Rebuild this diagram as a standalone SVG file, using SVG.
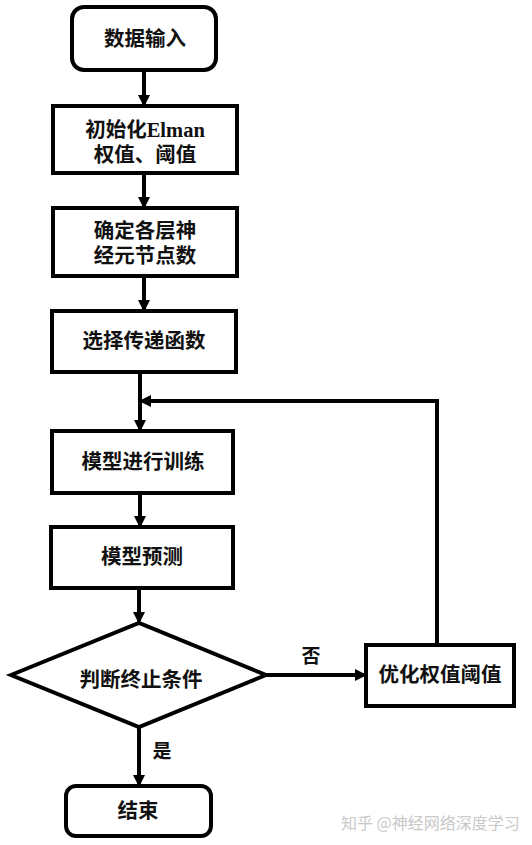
<svg xmlns="http://www.w3.org/2000/svg" width="532" height="845" viewBox="0 0 532 845">
<style>
.box{fill:#fff;stroke:#000;stroke-width:4}
.t{font-family:"Liberation Serif","Noto Sans CJK SC",serif;font-size:20.5px;font-weight:bold;fill:#111;text-anchor:middle;dominant-baseline:central}
.lbl{font-family:"Liberation Serif","Noto Sans CJK SC",serif;font-size:19px;font-weight:bold;fill:#111;text-anchor:middle;dominant-baseline:central}
.wm{font-family:"Noto Sans CJK SC",sans-serif;font-size:16px;fill:#c8c8c8;dominant-baseline:central}
.ln{fill:none;stroke:#000;stroke-width:4}
</style>
<defs>
<marker id="ah" markerWidth="12" markerHeight="12" refX="9" refY="6" orient="auto" markerUnits="userSpaceOnUse">
<path d="M0,0 L12,6 L0,12 Z" fill="#000"/>
</marker>
</defs>
<rect width="532" height="845" fill="#fff"/>
<g id="n1"><rect class="box" x="72" y="7" width="144" height="63" rx="12"/><text class="t" x="145" y="39">数据输入</text></g>
<g id="n2"><rect class="box" x="53" y="106" width="184" height="67"/><text class="t" x="145" y="130">初始化Elman</text><text class="t" x="145" y="155">权值、阈值</text></g>
<g id="n3"><rect class="box" x="53" y="208" width="184" height="68"/><text class="t" x="145" y="231">确定各层神</text><text class="t" x="145" y="256">经元节点数</text></g>
<g id="n4"><rect class="box" x="52" y="311" width="184" height="61"/><text class="t" x="144" y="341">选择传递函数</text></g>
<g id="n5"><rect class="box" x="52" y="431" width="181" height="62"/><text class="t" x="143" y="462">模型进行训练</text></g>
<g id="n6"><rect class="box" x="51" y="527" width="182" height="61"/><text class="t" x="142" y="557">模型预测</text></g>
<g id="n7"><polygon class="box" points="11,675 139,623 266,675 139,727"/><text class="t" x="141" y="680">判断终止条件</text></g>
<g id="n8"><rect class="box" x="366" y="645" width="148" height="61"/><text class="t" x="440" y="675">优化权值阈值</text></g>
<g id="n9"><rect class="box" x="66" y="786" width="145" height="50" rx="10"/><text class="t" x="138" y="811">结束</text></g>
<g id="edges">
<line class="ln" x1="144" y1="70" x2="144" y2="104" marker-end="url(#ah)"/>
<line class="ln" x1="144" y1="173" x2="144" y2="206" marker-end="url(#ah)"/>
<line class="ln" x1="144" y1="276" x2="144" y2="309" marker-end="url(#ah)"/>
<line class="ln" x1="140" y1="372" x2="140" y2="429" marker-end="url(#ah)"/>
<polyline class="ln" points="437,645 437,401 142,401" marker-end="url(#ah)"/>
<line class="ln" x1="140" y1="493" x2="140" y2="525" marker-end="url(#ah)"/>
<line class="ln" x1="139" y1="588" x2="139" y2="621" marker-end="url(#ah)"/>
<line class="ln" x1="266" y1="675" x2="364" y2="675" marker-end="url(#ah)"/>
<line class="ln" x1="139" y1="727" x2="139" y2="784" marker-end="url(#ah)"/>
<text class="lbl" x="311" y="656">否</text>
<text class="lbl" x="162" y="751">是</text>
</g>
<text class="wm" x="341" y="822">知乎 @神经网络深度学习</text>
</svg>
